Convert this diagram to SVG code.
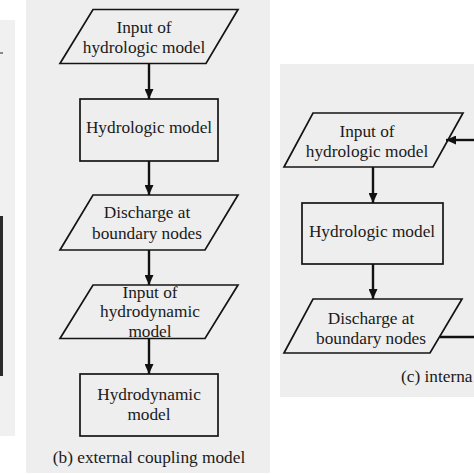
<svg xmlns="http://www.w3.org/2000/svg" width="474" height="474" viewBox="0 0 474 474">
<style>
.panel{fill:#eeeeee}
.shape{fill:none;stroke:#141414;stroke-width:1.7}
.conn{fill:none;stroke:#111;stroke-width:2.4}
text{font-family:"Liberation Serif","Times New Roman",serif;font-size:17.3px;fill:#1a1a1a;text-anchor:middle}
</style>
<defs>
<marker id="ah" markerUnits="userSpaceOnUse" markerWidth="10" markerHeight="9" refX="10" refY="4.5" orient="auto">
<path d="M0,0 L10,4.5 L0,9 z" fill="#111"/>
</marker>
</defs>
<rect width="474" height="474" fill="#ffffff"/>
<g id="panel-a">
<rect x="0" y="20" width="15" height="416" fill="#f0f0f0"/>
<rect x="0" y="52" width="3" height="2" fill="#888"/>
<rect x="0" y="216" width="3" height="160" fill="#2a2a2a"/>
</g>
<g id="panel-b">
<rect class="panel" x="26" y="0" width="244" height="473"/>
</g>
<g id="panel-c">
<rect class="panel" x="280" y="64" width="194" height="333"/>
</g>
<g id="b-input-hydrologic">
<polygon class="shape" points="93,9.5 238,9.5 206,63.5 60,63.5"/>
<text x="144" y="33">Input of</text>
<text x="144" y="53">hydrologic model</text>
</g>
<g id="b-hydrologic-model">
<rect class="shape" x="80" y="99" width="138" height="62"/>
<text x="149" y="133">Hydrologic model</text>
</g>
<g id="b-discharge">
<polygon class="shape" points="93,195 238,195 205,250 60,250"/>
<text x="147" y="218">Discharge at</text>
<text x="147" y="239">boundary nodes</text>
</g>
<g id="b-input-hydrodynamic">
<polygon class="shape" points="93,285 238,285 205,338.5 60,338.5"/>
<text x="150" y="298">Input of</text>
<text x="150" y="317">hydrodynamic</text>
<text x="150" y="337">model</text>
</g>
<g id="b-hydrodynamic-model">
<rect class="shape" x="80" y="374" width="138" height="62"/>
<text x="149" y="400">Hydrodynamic</text>
<text x="149" y="420">model</text>
</g>
<g id="b-caption">
<text x="149" y="463">(b) external coupling model</text>
</g>
<g id="c-input-hydrologic">
<polygon class="shape" points="313,113 463,113 433,167 284,167"/>
<text x="367" y="137">Input of</text>
<text x="367" y="157">hydrologic model</text>
</g>
<g id="c-hydrologic-model">
<rect class="shape" x="302" y="203" width="141" height="61"/>
<text x="372" y="237">Hydrologic model</text>
</g>
<g id="c-discharge">
<polygon class="shape" points="313,299 462,299 430,353 284,353"/>
<text x="371" y="324">Discharge at</text>
<text x="371" y="344">boundary nodes</text>
</g>
<g id="c-caption">
<text x="401" y="382" style="text-anchor:start">(c) interna</text>
</g>
<g id="connectors">
<line class="conn" x1="149" y1="63.5" x2="149" y2="99" marker-end="url(#ah)"/>
<line class="conn" x1="149" y1="161" x2="149" y2="195" marker-end="url(#ah)"/>
<line class="conn" x1="149" y1="250" x2="149" y2="285" marker-end="url(#ah)"/>
<line class="conn" x1="149" y1="338.5" x2="149" y2="374" marker-end="url(#ah)"/>
<line class="conn" x1="373" y1="167" x2="373" y2="203" marker-end="url(#ah)"/>
<line class="conn" x1="373" y1="264" x2="373" y2="299" marker-end="url(#ah)"/>
<line class="conn" x1="474" y1="140" x2="446" y2="140" marker-end="url(#ah)"/>
<line class="conn" x1="440" y1="337" x2="474" y2="337"/>
</g>
</svg>
